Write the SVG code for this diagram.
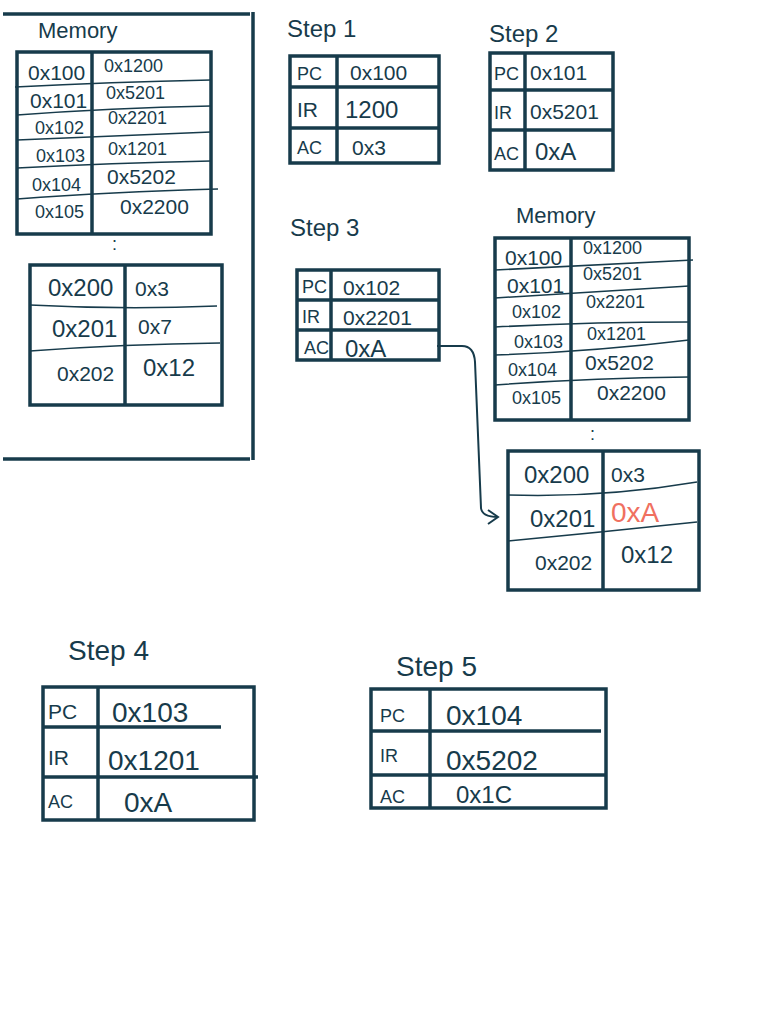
<svg xmlns="http://www.w3.org/2000/svg" width="768" height="1024" viewBox="0 0 768 1024">
<style>
.box{fill:none;stroke:#173b4b;stroke-width:3.5}
.div{stroke:#173b4b;stroke-width:3.5;fill:none}
.row{stroke:#173b4b;stroke-width:1.6;fill:none}
.t{font-family:"Liberation Sans",Arial,sans-serif;fill:#173b4b}
.c{font-size:21px}
.s{font-size:18px}
.h{font-size:24px}
.b{font-size:28px}
.m{font-size:22px}
.red{fill:#f07060}
</style>
<defs>
<marker id="chev" markerWidth="14" markerHeight="18" refX="12" refY="9" orient="auto" markerUnits="userSpaceOnUse">
<path d="M2,2 L12,9 L2,16" fill="none" stroke="#173b4b" stroke-width="2"/>
</marker>
</defs>
<rect width="768" height="1024" fill="#ffffff"/>

<g id="frame">
<line x1="3" y1="14" x2="250" y2="14" class="div"/>
<line x1="253" y1="12" x2="253" y2="460" class="div"/>
<line x1="3" y1="459" x2="250" y2="459" class="div"/>
</g>

<g id="memory1">
<text x="38" y="38" class="t m">Memory</text>
<rect x="17" y="52" width="194" height="182" class="box"/>
<line x1="92" y1="52" x2="92" y2="234" class="div"/>
<path d="M15,87 Q110,82 211,80" class="row"/>
<path d="M17,115 Q110,108 211,106" class="row"/>
<path d="M17,140 Q110,136 211,132" class="row"/>
<path d="M17,168 Q110,163 211,161" class="row"/>
<path d="M17,199 Q110,192 218,189" class="row"/>
<text x="28" y="80" class="t c">0x100</text><text x="104" y="72" class="t s">0x1200</text>
<text x="30" y="108" class="t c">0x101</text><text x="106" y="99" class="t s">0x5201</text>
<text x="35" y="134" class="t s">0x102</text><text x="108" y="124" class="t s">0x2201</text>
<text x="36" y="162" class="t s">0x103</text><text x="108" y="155" class="t s">0x1201</text>
<text x="32" y="191" class="t s">0x104</text><text x="107" y="184" class="t c">0x5202</text>
<text x="35" y="218" class="t s">0x105</text><text x="120" y="214" class="t c">0x2200</text>
<text x="112" y="250" class="t s">:</text>
</g>

<g id="memory1b">
<rect x="30" y="265" width="192" height="140" class="box"/>
<line x1="125" y1="265" x2="125" y2="405" class="div"/>
<path d="M30,305 Q125,310 217,306" class="row"/>
<path d="M30,351 Q125,344 220,343" class="row"/>
<text x="48" y="296" class="t h">0x200</text><text x="135" y="296" class="t c">0x3</text>
<text x="52" y="337" class="t h">0x201</text><text x="138" y="334" class="t c">0x7</text>
<text x="57" y="381" class="t c">0x202</text><text x="143" y="376" class="t h">0x12</text>
</g>

<g id="step1">
<text x="287" y="37" class="t h">Step 1</text>
<rect x="290" y="56" width="149" height="107" class="box"/>
<line x1="337" y1="56" x2="337" y2="163" class="div"/>
<line x1="290" y1="87" x2="439" y2="87" class="div"/>
<line x1="290" y1="128" x2="439" y2="128" class="div"/>
<text x="297" y="80" class="t s">PC</text><text x="350" y="80" class="t c">0x100</text>
<text x="297" y="117" class="t c">IR</text><text x="345" y="118" class="t h">1200</text>
<text x="297" y="154" class="t s">AC</text><text x="352" y="155" class="t c">0x3</text>
</g>

<g id="step2">
<text x="489" y="42" class="t h">Step 2</text>
<rect x="490" y="53" width="123" height="117" class="box"/>
<line x1="525" y1="53" x2="525" y2="170" class="div"/>
<line x1="490" y1="90" x2="613" y2="90" class="div"/>
<line x1="490" y1="130" x2="613" y2="130" class="div"/>
<text x="494" y="80" class="t s">PC</text><text x="530" y="80" class="t c">0x101</text>
<text x="494" y="119" class="t s">IR</text><text x="530" y="119" class="t c">0x5201</text>
<text x="494" y="160" class="t s">AC</text><text x="535" y="160" class="t h">0xA</text>
</g>

<g id="step3">
<text x="290" y="236" class="t h">Step 3</text>
<rect x="297" y="270" width="142" height="90" class="box"/>
<line x1="331" y1="270" x2="331" y2="360" class="div"/>
<line x1="297" y1="300" x2="439" y2="300" class="div"/>
<line x1="297" y1="330" x2="439" y2="330" class="div"/>
<text x="302" y="293" class="t s">PC</text><text x="343" y="295" class="t c">0x102</text>
<text x="302" y="323" class="t s">IR</text><text x="343" y="325" class="t c">0x2201</text>
<text x="304" y="354" class="t s">AC</text><text x="345" y="357" class="t h">0xA</text>
</g>

<g id="memory2">
<text x="516" y="223" class="t m">Memory</text>
<rect x="495" y="238" width="194" height="182" class="box"/>
<line x1="571" y1="238" x2="571" y2="420" class="div"/>
<path d="M495,270 Q590,265 693,260" class="row"/>
<path d="M495,298 Q590,292 689,286" class="row"/>
<path d="M495,327 Q590,322 689,322" class="row"/>
<path d="M495,355 Q590,352 689,340" class="row"/>
<path d="M495,385 Q590,378 689,377" class="row"/>
<text x="505" y="265" class="t c">0x100</text><text x="583" y="254" class="t s">0x1200</text>
<text x="507" y="293" class="t c">0x101</text><text x="583" y="280" class="t s">0x5201</text>
<text x="512" y="318" class="t s">0x102</text><text x="586" y="308" class="t s">0x2201</text>
<text x="514" y="348" class="t s">0x103</text><text x="587" y="340" class="t s">0x1201</text>
<text x="508" y="376" class="t s">0x104</text><text x="585" y="370" class="t c">0x5202</text>
<text x="512" y="404" class="t s">0x105</text><text x="597" y="400" class="t c">0x2200</text>
<text x="590" y="440" class="t s">:</text>
</g>

<g id="memory2b">
<rect x="508" y="451" width="191" height="139" class="box"/>
<line x1="603" y1="451" x2="603" y2="590" class="div"/>
<path d="M508,495 Q603,498 697,482" class="row"/>
<path d="M508,541 Q603,532 697,522" class="row"/>
<text x="524" y="483" class="t h">0x200</text><text x="611" y="482" class="t c">0x3</text>
<text x="530" y="527" class="t h">0x201</text><text x="611" y="522" class="t b red">0xA</text>
<text x="535" y="570" class="t c">0x202</text><text x="621" y="563" class="t h">0x12</text>
</g>

<g id="step4">
<text x="68" y="660" class="t b">Step 4</text>
<rect x="43" y="687" width="211" height="133" class="box"/>
<line x1="98" y1="687" x2="98" y2="820" class="div"/>
<line x1="43" y1="727" x2="221" y2="727" class="div"/>
<line x1="43" y1="777" x2="258" y2="777" class="div"/>
<text x="48" y="719" class="t c">PC</text><text x="112" y="722" class="t b">0x103</text>
<text x="48" y="765" class="t c">IR</text><text x="108" y="770" class="t b">0x1201</text>
<text x="48" y="808" class="t s">AC</text><text x="124" y="812" class="t b">0xA</text>
</g>

<g id="step5">
<text x="396" y="676" class="t b">Step 5</text>
<rect x="371" y="689" width="235" height="119" class="box"/>
<line x1="430" y1="689" x2="430" y2="808" class="div"/>
<line x1="371" y1="731" x2="601" y2="731" class="div"/>
<line x1="371" y1="775" x2="606" y2="775" class="div"/>
<text x="380" y="722" class="t s">PC</text><text x="446" y="725" class="t b">0x104</text>
<text x="380" y="762" class="t s">IR</text><text x="446" y="770" class="t b">0x5202</text>
<text x="380" y="803" class="t s">AC</text><text x="456" y="803" class="t h">0x1C</text>
</g>

<g id="connectors">
<path d="M437,346 L462,346 Q474,346 475,362 L481,508 Q482,517 498,517" fill="none" stroke="#173b4b" stroke-width="2" marker-end="url(#chev)"/>
</g>
</svg>
